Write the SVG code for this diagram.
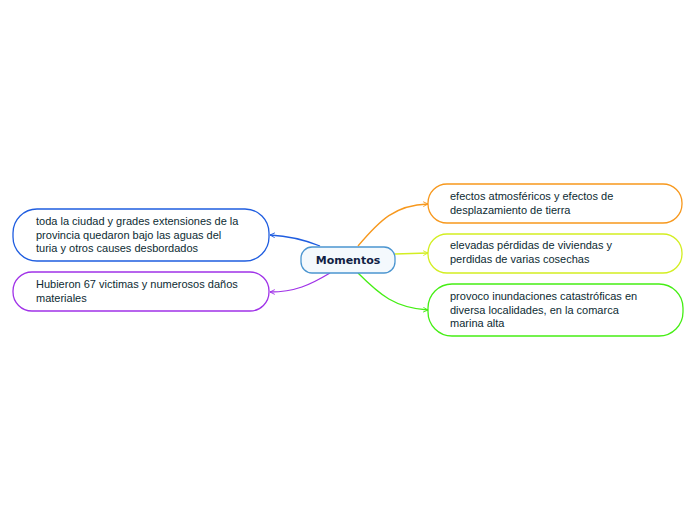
<svg xmlns="http://www.w3.org/2000/svg" width="696" height="520" viewBox="0 0 696 520">
<style>
text{font-family:"Liberation Sans",Arial,sans-serif;font-size:11px;fill:#0d2b33}
.n{fill:#fff;stroke-width:1.3}
.c{fill:none;stroke-width:1.3}
</style>
<defs>
<marker id="m" viewBox="0 0 10 10" refX="9" refY="5" markerWidth="6" markerHeight="6" orient="auto" markerUnits="userSpaceOnUse"><path d="M1,1 L9,5 L1,9" fill="none" stroke="context-stroke" stroke-width="1.5"/></marker>
</defs>
<g id="connectors">
<path class="c" stroke="#f7981d" d="M358,246 C380,220 395,205 428,204" marker-end="url(#m)"/>
<path class="c" stroke="#d3ee22" d="M395,254 L428,253" marker-end="url(#m)"/>
<path class="c" stroke="#45ee14" d="M358,273 C380,295 395,308 428,310" marker-end="url(#m)"/>
<path class="c" stroke="#1f5de0" d="M320,246 C305,240 290,236 270,235" marker-end="url(#m)"/>
<path class="c" stroke="#a032e8" d="M330,273 C310,285 295,292 270,292" marker-end="url(#m)"/>
</g>
<g id="center"><rect x="301" y="247" width="94" height="26" rx="11" fill="#f4f9fd" stroke="#4b95d0" stroke-width="1.3"/><text x="348" y="264" text-anchor="middle" style="font-family:'DejaVu Sans',sans-serif;font-weight:bold;font-size:11px;fill:#111e44">Momentos</text></g>
<g id="n1"><rect class="n" x="428" y="184" width="254" height="39" rx="19" stroke="#f7981d"/><text x="450" y="200">efectos atmosféricos y efectos de</text><text x="450" y="214">desplazamiento de tierra</text></g>
<g id="n2"><rect class="n" x="428" y="234" width="254" height="39" rx="19" stroke="#d3ee22"/><text x="450" y="249">elevadas pérdidas de viviendas y</text><text x="450" y="263">perdidas de varias cosechas</text></g>
<g id="n3"><rect class="n" x="428" y="284" width="255" height="52" rx="24" stroke="#45ee14"/><text x="450" y="300">provoco inundaciones catastróficas en</text><text x="450" y="314">diversa localidades, en la comarca</text><text x="450" y="327">marina alta</text></g>
<g id="n4"><rect class="n" x="13" y="209" width="256" height="52" rx="24" stroke="#1f5de0"/><text x="36" y="225">toda la ciudad y grades extensiones de la</text><text x="36" y="239">provincia quedaron bajo las aguas del</text><text x="36" y="252">turia y otros causes desbordados</text></g>
<g id="n5"><rect class="n" x="13" y="272" width="256" height="39" rx="19" stroke="#a032e8"/><text x="36" y="288">Hubieron 67 victimas y numerosos daños</text><text x="36" y="302">materiales</text></g>
</svg>
